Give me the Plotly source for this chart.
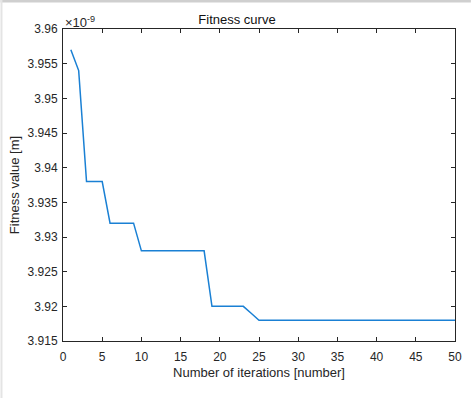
import plotly.graph_objects as go

iterations = list(range(1, 51))
fitness_e9 = [3.957, 3.954, 3.938, 3.938, 3.938, 3.932, 3.932, 3.932, 3.932, 3.928,
              3.928, 3.928, 3.928, 3.928, 3.928, 3.928, 3.928, 3.928, 3.920, 3.920,
              3.920, 3.920, 3.920, 3.919] + [3.918] * 26
x_ticks = [0, 5, 10, 15, 20, 25, 30, 35, 40, 45, 50]
y_ticks = [3.915, 3.92, 3.925, 3.93, 3.935, 3.94, 3.945, 3.95, 3.955, 3.96]
y_tick_labels = ["3.915", "3.92", "3.925", "3.93", "3.935", "3.94", "3.945", "3.95", "3.955", "3.96"]

FONT = "Liberation Sans, Arial, sans-serif"
W, H = 474, 398
L, R, T, B = 63, 16, 29, 57
PW, PH = W - L - R, H - T - B

fig = go.Figure()
fig.add_trace(go.Scatter(x=iterations, y=fitness_e9, mode="lines",
                         line=dict(color="#1a80d4", width=1.5), showlegend=False))

axis_common = dict(showline=True, linecolor="#262626", linewidth=1, mirror="ticks",
                   ticks="inside", ticklen=4, tickcolor="#262626", showgrid=False,
                   zeroline=False, tickfont=dict(family=FONT, size=12, color="#262626"))

fig.update_layout(
    width=W, height=H,
    margin=dict(l=L, r=R, t=T, b=B),
    paper_bgcolor="white", plot_bgcolor="white",
    title=dict(text="Fitness curve", x=0.5, xanchor="center", y=1 - 19 / H, yanchor="middle",
               font=dict(family=FONT, size=13, color="#111111")),
    xaxis=dict(range=[0, 50], tickvals=x_ticks, ticklabelstandoff=5,
               title=dict(text="Number of iterations [number]", standoff=4,
                          font=dict(family=FONT, size=13, color="#262626")),
               **axis_common),
    yaxis=dict(range=[3.915, 3.96], tickvals=y_ticks, ticktext=y_tick_labels,
               ticklabelstandoff=2,
               title=dict(text="Fitness value [m]", standoff=5,
                          font=dict(family=FONT, size=13, color="#262626")),
               **axis_common),
    annotations=[dict(text="×10<sup>-9</sup>", xref="paper", yref="paper", x=0.0, y=1.0,
                      xanchor="left", yanchor="bottom", showarrow=False, yshift=-3,
                      font=dict(family=FONT, size=13, color="#262626"))],
    shapes=[dict(type="rect", xref="paper", yref="paper", x0=-L / PW, x1=(W - L) / PW,
                 y0=1 + (T - 2.5) / PH, y1=1 + T / PH, fillcolor="#cfcfcf", line=dict(width=0)),
            dict(type="rect", xref="paper", yref="paper", x0=-L / PW, x1=-(L - 2) / PW,
                 y0=-B / PH, y1=1 + T / PH, fillcolor="#e4e4e4", line=dict(width=0))],
)

fig.write_html("out.html", config={"displayModeBar": False},
               post_script="document.body.style.margin='0';")
